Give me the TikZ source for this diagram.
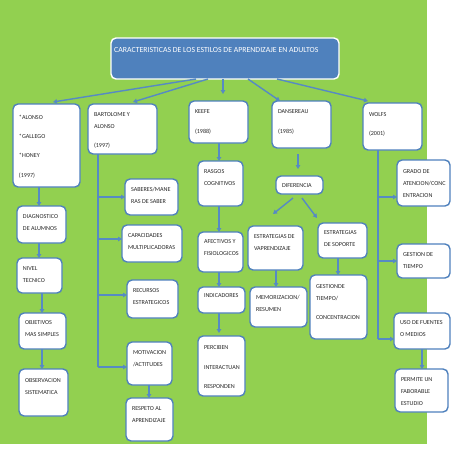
\documentclass[tikz,border=0pt]{standalone}
\usepackage{fontspec}
\setmainfont{Carlito}
\usetikzlibrary{arrows.meta,calc}
\definecolor{bggreen}{RGB}{146,208,80}
\definecolor{boxblue}{RGB}{79,129,189}
\definecolor{lineblue}{RGB}{86,138,196}
\definecolor{txtdark}{RGB}{40,40,40}
\tikzset{
  box/.style={draw=boxblue, line width=1.4pt, fill=white, rounded corners=5pt, inner sep=0pt, outer sep=0pt},
  txt/.style={inner sep=0pt, outer sep=0pt, align=left, text=txtdark, font=\fontsize{6.1}{12}\selectfont},
  arr/.style={draw=lineblue, line width=1.4pt, -{Triangle[length=4pt,width=4.5pt]}},
  plain/.style={draw=lineblue, line width=1.4pt},
}
\newcommand\bx[7]{%
  \node[box, anchor=north west, minimum width={(#4-#2)*1pt}, minimum height={(#5-#3)*1pt}] (#1) at (#2,#3) {};
  \node[txt, anchor=north west] (#1-t) at (#2+6,#6-2) {#7};
}
\begin{document}
\begin{tikzpicture}[x=1pt,y=-1pt]
\useasboundingbox (0,0) rectangle (453,453);
\fill[white] (0,0) rectangle (453,453);
\fill[bggreen] (0,0) rectangle (427,444);
% title
\node[draw=white, line width=1.4pt, fill=boxblue, rounded corners=5pt, anchor=north west, minimum width=228pt, minimum height=41pt, inner sep=0pt, outer sep=0pt] (title) at (111,38) {};
\node[inner sep=0pt, anchor=north west, text=white, font=\fontsize{7.8}{9}\selectfont] (title-t) at (114,47.3) {CARACTERISTICAS DE LOS ESTILOS DE APRENDIZAJE EN ADULTOS};
% boxes
\bx{alonso}{13}{104}{80}{187}{117}{*ALONSO\\[7.3pt]*GALLEGO\\[7.3pt]*HONEY\\[7.3pt](1997)}
\bx{bart}{88}{104}{157}{154}{115}{BARTOLOME Y\\ALONSO\\[7pt](1997)}
\bx{sab}{125}{179}{178}{215}{189}{SABERES/MANE\\RAS DE SABER}
\bx{cap}{122}{225}{182}{262}{236}{CAPACIDADES\\MULTIPLICADORAS}
\bx{rec}{127}{280}{178}{318}{291}{RECURSOS\\ESTRATEGICOS}
\bx{mot}{127}{342}{172}{385}{353}{MOTIVACION\\/ACTITUDES}
\bx{resp}{126}{398}{173}{441}{409}{RESPETO AL\\APRENDIZAJE}
\bx{diag}{17}{206}{66}{243}{217}{DIAGNOSTICO\\DE ALUMNOS}
\bx{niv}{17}{258}{62}{293}{269}{NIVEL\\TECNICO}
\bx{obj}{19}{313}{66}{349}{323}{OBJETIVOS\\MAS SIMPLES}
\bx{obs}{19}{369}{68}{416}{381}{OBSERVACION\\SISTEMATICA}
\bx{keefe}{189}{101}{248}{143}{112}{KEEFE\\[8pt](1988)}
\bx{rasgos}{198}{161}{243}{206}{172}{RASGOS\\COGNITIVOS}
\bx{afec}{198}{232}{243}{272}{242}{AFECTIVOS Y\\FISIOLOGICOS}
\bx{indic}{198}{287}{245}{313}{296}{INDICADORES}
\bx{perc}{198}{336}{245}{396}{348}{PERCIBEN\\[7.5pt]INTERACTUAN\\[7.5pt]RESPONDEN}
\bx{dans}{272}{101}{331}{148}{112}{DANSEREAU\\[8pt](1985)}
\bx{dif}{276}{176}{323}{194}{186}{DIFERENCIA}
\bx{estrv}{248}{226}{303}{270}{237}{ESTRATEGIAS DE\\VAPRENDIZAJE}
\bx{memo}{250}{287}{307}{327}{297}{MEMORIZACION/\\RESUMEN}
\bx{estrs}{318}{223}{367}{258}{233}{ESTRATEGIAS\\DE SOPORTE}
\bx{gest}{310}{275}{367}{339}{287}{GESTIONDE\\TIEMPO/\\[7pt]CONCENTRACION}
\bx{wolfs}{363}{103}{422}{150}{115}{WOLFS\\[7pt](2001)}
\bx{grado}{397}{160}{450}{206}{172}{GRADO DE\\ATENCION/CONC\\ENTRACION}
\bx{gt}{397}{244}{450}{278}{255}{GESTION DE\\TIEMPO}
\bx{uso}{394}{313}{450}{349}{323}{USO DE FUENTES\\O MEDIOS}
\bx{perm}{395}{369}{448}{412}{380}{PERMITE UN\\FABORABLE\\ESTUDIO}
% title arrows
\draw[arr] ([xshift=85pt]title.south west) -- ([xshift=40pt,yshift=2pt]alonso.north west);
\draw[arr] ([xshift=97pt]title.south west) -- ([xshift=45pt,yshift=2pt]bart.north west);
\draw[arr] ([xshift=112pt]title.south west) -- ([xshift=34pt,yshift=7pt]keefe.north west);
\draw[arr] ([xshift=137pt]title.south west) -- ([xshift=8pt]dans.north west);
\draw[arr] ([xshift=166pt]title.south west) -- ([xshift=5pt,yshift=2pt]wolfs.north west);
% left column
\draw[arr] ([xshift=26pt]alonso.south west) -- ([xshift=22pt]diag.north west);
\draw[arr] ([xshift=22pt]diag.south west) -- ([xshift=22pt]niv.north west);
\draw[arr] ([xshift=25pt]niv.south west) -- ([xshift=23pt]obj.north west);
\draw[arr] ([xshift=23pt]obj.south west) -- ([xshift=23pt]obs.north west);
% bartolome trunk
\coordinate (bt) at ([xshift=10pt]bart.south west);
\coordinate (bend) at ([yshift=-3.5pt]mot.west);
\draw[plain] (bt) -- (bt |- bend);
\draw[arr] (bt |- sab.west) -- (sab.west);
\draw[arr] ([yshift=4.5pt]bt |- cap.west) -- ([yshift=4.5pt]cap.west);
\draw[arr] ([yshift=4pt]bt |- rec.west) -- ([yshift=4pt]rec.west);
\draw[arr] (bt |- bend) -- (bend);
\draw[arr] ([xshift=22pt]mot.south west) -- ([xshift=23pt]resp.north west);
% keefe column
\draw[arr] ([xshift=30pt]keefe.south west) -- ([xshift=21pt]rasgos.north west);
\draw[arr] ([xshift=21pt]rasgos.south west) -- ([xshift=21pt]afec.north west);
\draw[arr] ([xshift=21pt]afec.south west) -- ([xshift=21pt]indic.north west);
\draw[arr] ([xshift=21pt]indic.south west) -- ([xshift=21pt,yshift=3pt]perc.north west);
% dansereau column
\draw[arr] ([xshift=26pt,yshift=-6pt]dans.south west) -- ([xshift=22pt,yshift=7pt]dif.north west);
\draw[arr] ([xshift=17pt,yshift=-4pt]dif.south west) -- ([xshift=25pt,yshift=12pt]estrv.north west);
\draw[arr] ([xshift=26pt,yshift=-4pt]dif.south west) -- ([xshift=-1pt,yshift=5pt]estrs.north west);
\draw[arr] ([xshift=28pt]estrv.south west) -- ([xshift=26pt]memo.north west);
\draw[arr] ([xshift=20pt]estrs.south west) -- ([xshift=28pt]gest.north west);
% wolfs trunk
\coordinate (wt) at ([xshift=15pt]wolfs.south west);
\coordinate (wend) at ([yshift=-8pt]uso.west);
\draw[plain] (wt) -- (wt |- wend);
\draw[arr] ([yshift=-14pt]wt |- grado.west) -- ([yshift=-14pt]grado.west);
\draw[arr] (wt |- gt.west) -- (gt.west);
\draw[arr] (wt |- wend) -- (wend);
\draw[arr] ([xshift=28pt]uso.south west) -- ([xshift=27pt]perm.north west);
\end{tikzpicture}
\end{document}
